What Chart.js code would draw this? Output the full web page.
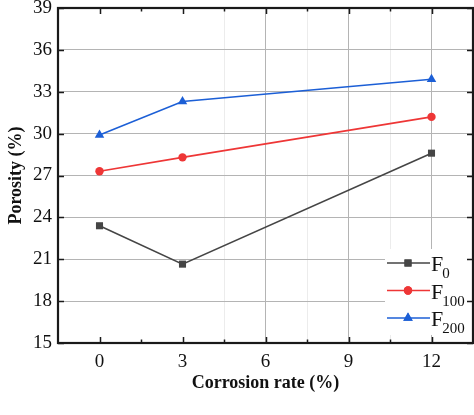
<!DOCTYPE html>
<html>
<head>
<meta charset="utf-8">
<script src="https://cdn.jsdelivr.net/npm/chart.js@4.4.0/dist/chart.umd.min.js"></script>
<style>
  html, body { margin: 0; padding: 0; background: #fff; }
  #wrap { width: 474px; height: 415px; position: relative; }
</style>
</head>
<body>
<div id="wrap"><canvas id="c" width="474" height="415"></canvas></div>
<script>
// ---- data ----
const corrosionRates = [0, 3, 12];
const seriesNames = ['F0', 'F100', 'F200'];
const seriesF0 = [23.4, 20.65, 28.6];
const seriesF100 = [27.3, 28.3, 31.2];
const seriesF200 = [29.9, 32.3, 33.9];
const xMajorTicks = [0, 3, 6, 9, 12];
const xMinorTicks = [1.5, 4.5, 7.5, 10.5];
const yTicks = [15, 18, 21, 24, 27, 30, 33, 36, 39];

const colors = ['#454545', '#ee3636', '#1c5fd6'];
const styles = ['rect', 'circle', 'triangle'];
const radii = [5, 4.2, 5.5];

function pts(vals) { return corrosionRates.map((x, i) => ({ x: x, y: vals[i] })); }
const allSeries = [seriesF0, seriesF100, seriesF200];

const datasets = allSeries.map((s, i) => ({
  label: seriesNames[i],
  data: pts(s),
  borderColor: colors[i],
  backgroundColor: colors[i],
  borderWidth: 1.6,
  pointStyle: styles[i],
  pointRadius: radii[i],
  pointBorderWidth: 0,
  pointBackgroundColor: colors[i],
  tension: 0,
  clip: false
}));

const frameTicks = {
  id: 'frameTicks',
  afterDraw(chart) {
    const ctx = chart.ctx, a = chart.chartArea;
    const xs = chart.scales.x, ys = chart.scales.y;
    ctx.save();
    ctx.strokeStyle = '#1a1a1a';
    ctx.lineWidth = 1.5;
    ctx.beginPath();
    xMajorTicks.forEach(v => {
      const px = Math.round(xs.getPixelForValue(v)) + 0.5;
      ctx.moveTo(px, a.bottom); ctx.lineTo(px, a.bottom - 6);
      ctx.moveTo(px, a.top); ctx.lineTo(px, a.top + 6);
    });
    xMinorTicks.forEach(v => {
      const px = Math.round(xs.getPixelForValue(v)) + 0.5;
      ctx.moveTo(px, a.bottom); ctx.lineTo(px, a.bottom - 3.5);
      ctx.moveTo(px, a.top); ctx.lineTo(px, a.top + 3.5);
    });
    yTicks.forEach(v => {
      const py = Math.round(ys.getPixelForValue(v)) + 0.5;
      ctx.moveTo(a.left, py); ctx.lineTo(a.left + 6, py);
      ctx.moveTo(a.right, py); ctx.lineTo(a.right - 6, py);
    });
    ctx.stroke();
    ctx.lineWidth = 2.2;
    ctx.strokeRect(a.left, a.top, a.right - a.left, a.bottom - a.top);
    ctx.restore();
  }
};

const customLegend = {
  id: 'customLegend',
  afterDatasetsDraw(chart) {
    const ctx = chart.ctx;
    ctx.save();
    ctx.fillStyle = '#ffffff';
    ctx.fillRect(385, 249, 84, 86);
    chart.data.datasets.forEach((ds, i) => {
      const y = 263 + i * 27.5;
      ctx.strokeStyle = ds.borderColor;
      ctx.lineWidth = 1.6;
      ctx.beginPath();
      ctx.moveTo(387, y); ctx.lineTo(430, y);
      ctx.stroke();
      ctx.fillStyle = ds.backgroundColor;
      Chart.helpers.drawPoint(ctx, { pointStyle: ds.pointStyle, radius: ds.pointRadius, borderWidth: 0, rotation: 0 }, 408, y);
      ctx.fill();
      ctx.fillStyle = '#111';
      ctx.textBaseline = 'alphabetic';
      ctx.textAlign = 'left';
      ctx.font = '22px "Liberation Serif", "Times New Roman", serif';
      const base = ds.label.charAt(0), sub = ds.label.slice(1);
      ctx.fillText(base, 431, y + 8);
      const w = ctx.measureText(base).width;
      ctx.font = '15px "Liberation Serif", "Times New Roman", serif';
      ctx.fillText(sub, 431 + w - 1, y + 15);
    });
    ctx.restore();
  }
};

const majorGrid = '#b4b4b4';
const minorGrid = '#ececec';

new Chart(document.getElementById('c'), {
  type: 'line',
  data: { datasets: datasets },
  options: {
    responsive: false,
    animation: false,
    devicePixelRatio: 1,
    layout: { autoPadding: false, padding: { top: 8, right: 1, left: 0, bottom: 0 } },
    plugins: { legend: { display: false }, tooltip: { enabled: false } },
    scales: {
      x: {
        type: 'linear',
        min: -1.5,
        max: 13.5,
        afterBuildTicks: (s) => {
          s.ticks = xMajorTicks.concat(xMinorTicks).sort((a, b) => a - b).map(v => ({ value: v }));
        },
        afterFit: (s) => { s.height = 72; s.paddingLeft = 0; s.paddingRight = 0; },
        border: { display: false },
        grid: {
          drawTicks: false,
          lineWidth: 1,
          color: (c) => {
            const v = c.tick ? c.tick.value : null;
            if (v === 6 || v === 9 || v === 12) return majorGrid;
            if (v === 4.5 || v === 7.5 || v === 10.5) return minorGrid;
            return 'rgba(0,0,0,0)';
          }
        },
        ticks: {
          autoSkip: false,
          maxRotation: 0,
          padding: 8,
          color: '#111',
          font: { family: '"Liberation Serif", "Times New Roman", serif', size: 19 },
          callback: (v) => xMajorTicks.includes(v) ? String(v) : ''
        },
        title: {
          display: true,
          text: 'Corrosion rate (%)',
          color: '#111',
          font: { family: '"Liberation Serif", "Times New Roman", serif', size: 18, weight: 'bold' },
          padding: { top: 0, bottom: 21 }
        }
      },
      y: {
        type: 'linear',
        min: 15,
        max: 39,
        afterBuildTicks: (s) => { s.ticks = yTicks.map(v => ({ value: v })); },
        afterFit: (s) => { s.width = 58; s.paddingTop = 0; s.paddingBottom = 0; },
        border: { display: false },
        grid: {
          drawTicks: false,
          color: (c) => {
            const v = c.tick ? c.tick.value : null;
            return (v > 15 && v < 39) ? majorGrid : 'rgba(0,0,0,0)';
          }
        },
        ticks: {
          padding: 6,
          color: '#111',
          font: { family: '"Liberation Serif", "Times New Roman", serif', size: 19 }
        },
        title: {
          display: true,
          text: 'Porosity (%)',
          color: '#111',
          font: { family: '"Liberation Serif", "Times New Roman", serif', size: 18, weight: 'bold' },
          padding: { top: 6, bottom: 0 }
        }
      }
    }
  },
  plugins: [customLegend, frameTicks]
});
</script>
</body>
</html>
